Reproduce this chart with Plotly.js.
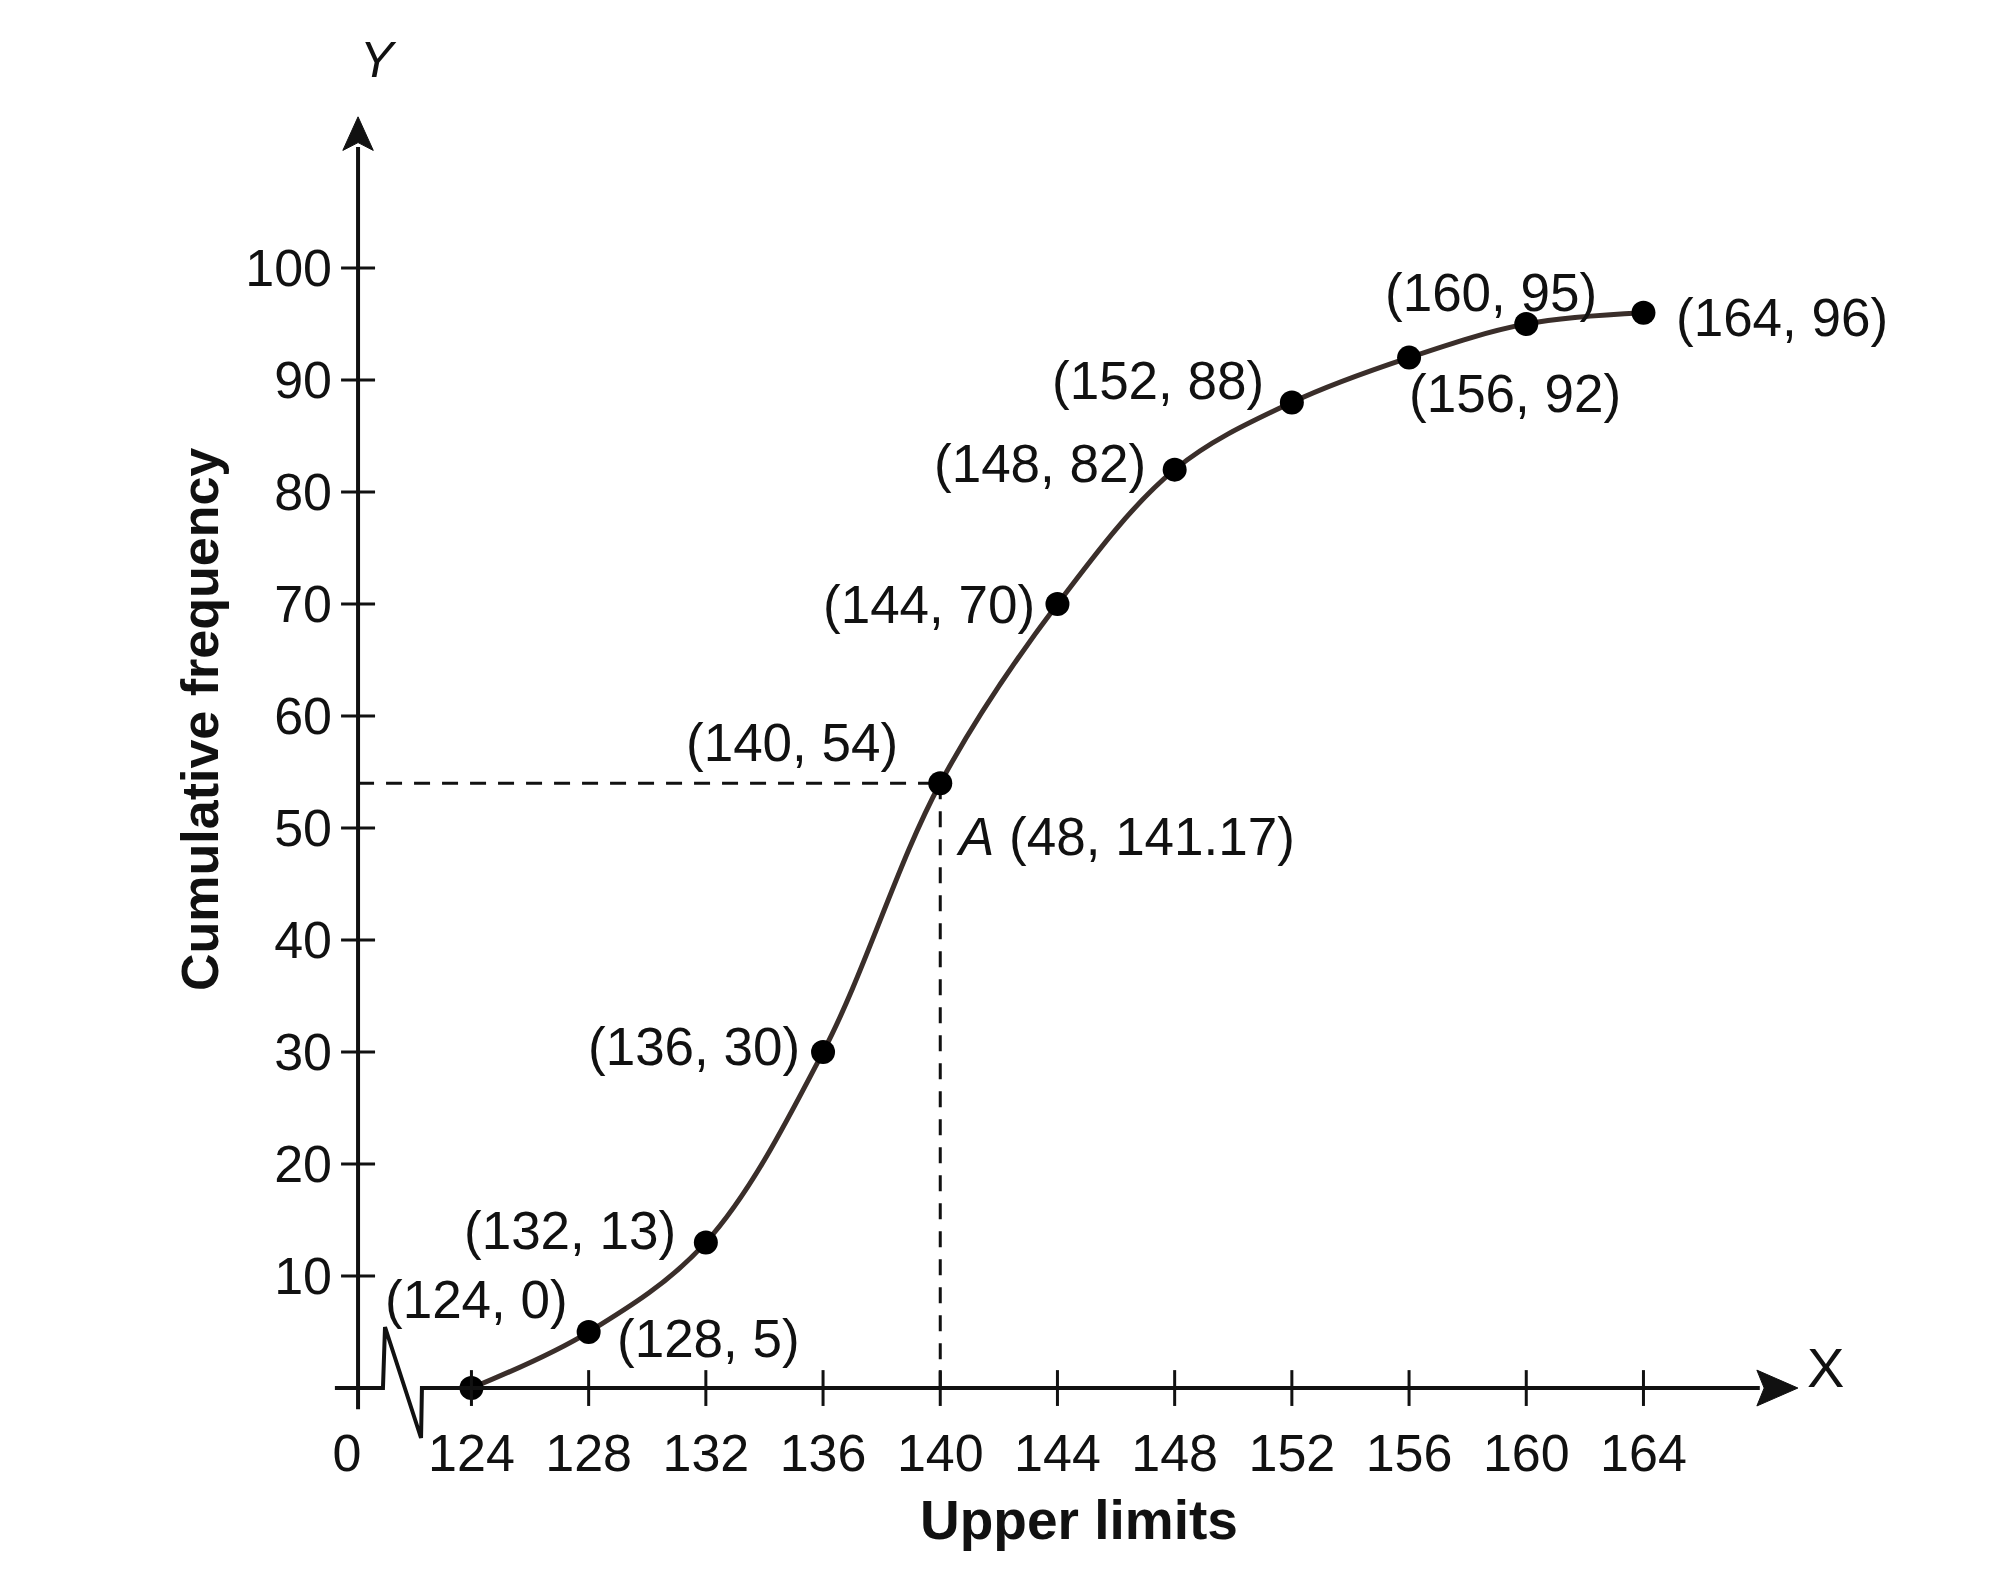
<!DOCTYPE html>
<html>
<head>
<meta charset="utf-8">
<script src="https://cdn.plot.ly/plotly-3.0.1.min.js"></script>
<style>
html,body{margin:0;padding:0;background:#ffffff;}
#chart{width:1998px;height:1592px;}
</style>
</head>
<body>
<div id="chart"></div>
<script>
// ---- data ----
const upperLimits = [124, 128, 132, 136, 140, 144, 148, 152, 156, 160, 164];
const cumulativeFrequency = [0, 5, 13, 30, 54, 70, 82, 88, 92, 95, 96];
const xTickValues = [124, 128, 132, 136, 140, 144, 148, 152, 156, 160, 164];
const xTickLabels = ['124', '128', '132', '136', '140', '144', '148', '152', '156', '160', '164'];
const yTickValues = [10, 20, 30, 40, 50, 60, 70, 80, 90, 100];
const yTickLabels = ['10', '20', '30', '40', '50', '60', '70', '80', '90', '100'];
const originLabel = '0';
const guideLevel = 54;      // horizontal dashed guide (through (140, 54))
const guideX = 140;         // vertical dashed guide
const medianText = '<i>A</i> (48, 141.17)';
const medianValue = 48;
const xTitle = 'Upper limits';
const yTitle = 'Cumulative frequency';

// ---- layout / style (not data) ----
const FONT = 'Liberation Sans, Arial, Helvetica, sans-serif';
const INK = '#111111';
const xRange = [107.91, 176.1];
const yRange = [-18.21, 123.93];
const yAxisX = 120.13;           // where the broken x-axis meets the y-axis
const originLabelX = 119.75;     // position of the "0" origin label
const xArrowTip = 169.27, xArrowBase = 167.87, xArrowNotch = 168.12;
const yArrowTip = 113.5, yArrowBase = 110.5, yArrowNotch = 111.2;

// label placement per point: [xanchor, xshift, yshift]
const labelPlacement = [
  ['center', 5, 89],
  ['left', 26, -6],
  ['right', -28, 12],
  ['right', -21, 6],
  ['right', -40, 41],
  ['right', -20, 0],
  ['right', -27, 6],
  ['right', -26, 22],
  ['left', -2, -36],
  ['center', -35, 32],
  ['left', 31, -5]
];

const shapes = [];
// dashed guides
shapes.push({type:'line', xref:'x', yref:'y', x0:yAxisX, x1:guideX, y0:guideLevel, y1:guideLevel,
  line:{color:INK, width:3, dash:'16px,12px'}, layer:'below'});
shapes.push({type:'line', xref:'x', yref:'y', x0:guideX, x1:guideX, y0:guideLevel, y1:0,
  line:{color:INK, width:3, dash:'16px,12px'}, layer:'below'});
// y-axis line
shapes.push({type:'line', xref:'x', yref:'y', x0:yAxisX, x1:yAxisX, y0:-1.9, y1:yArrowBase + 0.3,
  line:{color:INK, width:4}});
// y arrow head
const yHW = 0.52;
shapes.push({type:'path', xref:'x', yref:'y',
  path:`M ${yAxisX},${yArrowTip} L ${yAxisX - yHW},${yArrowBase} L ${yAxisX},${yArrowNotch} L ${yAxisX + yHW},${yArrowBase} Z`,
  fillcolor:INK, line:{color:INK, width:1}});
// x-axis with zig-zag break
shapes.push({type:'path', xref:'x', yref:'y',
  path:`M 119.34,0 L 120.98,0 L 121.05,5.45 L 122.28,-4.46 L 122.31,0 L ${xArrowBase + 0.1},0`,
  line:{color:INK, width:4}});
// x arrow head
const xHH = 1.6;
shapes.push({type:'path', xref:'x', yref:'y',
  path:`M ${xArrowTip},0 L ${xArrowBase},${xHH} L ${xArrowNotch},0 L ${xArrowBase},${-xHH} Z`,
  fillcolor:INK, line:{color:INK, width:1}});
// crossing tick marks
yTickValues.forEach(v => shapes.push({type:'line', xref:'x', yref:'y',
  x0:yAxisX - 0.58, x1:yAxisX + 0.58, y0:v, y1:v, line:{color:INK, width:3}}));
xTickValues.forEach(v => shapes.push({type:'line', xref:'x', yref:'y',
  x0:v, x1:v, y0:-1.6, y1:1.6, line:{color:INK, width:3}}));

const annotations = [];
upperLimits.forEach((x, i) => {
  const p = labelPlacement[i];
  annotations.push({x:x, y:cumulativeFrequency[i], xref:'x', yref:'y',
    text:`(${x}, ${cumulativeFrequency[i]})`, showarrow:false,
    xanchor:p[0], yanchor:'middle', xshift:p[1], yshift:p[2],
    font:{family:FONT, size:53, color:INK}});
});
annotations.push({x:guideX, y:medianValue, xref:'x', yref:'y', text:medianText, showarrow:false,
  xanchor:'left', yanchor:'middle', xshift:14, yshift:14, font:{family:FONT, size:53, color:INK}});
annotations.push({x:yAxisX, y:118.6, xref:'x', yref:'y', text:'<i>Y</i>', showarrow:false,
  xanchor:'center', yanchor:'middle', xshift:20, font:{family:FONT, size:50, color:INK}});
annotations.push({x:170.2, y:1.8, xref:'x', yref:'y', text:'X', showarrow:false,
  xanchor:'center', yanchor:'middle', font:{family:FONT, size:56, color:INK}});
annotations.push({x:200/1998, y:1 - 720/1592, xref:'paper', yref:'paper', text:`<b>${yTitle}</b>`,
  showarrow:false, textangle:-90, xanchor:'center', yanchor:'middle',
  font:{family:FONT, size:52, color:INK}});
annotations.push({x:1079/1998, y:1 - 1520/1592, xref:'paper', yref:'paper', text:`<b>${xTitle}</b>`,
  showarrow:false, xanchor:'center', yanchor:'middle',
  font:{family:FONT, size:55, color:INK}});

const trace = {
  x: upperLimits, y: cumulativeFrequency, type:'scatter', mode:'lines+markers',
  line:{shape:'spline', smoothing:1, color:'#3a2e2a', width:5},
  marker:{size:24, color:'#000000'}, cliponaxis:false, hoverinfo:'skip', showlegend:false
};

const layout = {
  width:1998, height:1592,
  margin:{l:0, r:0, t:0, b:0, pad:0},
  paper_bgcolor:'#ffffff', plot_bgcolor:'#ffffff',
  showlegend:false,
  xaxis:{range:xRange, anchor:'free', position:18.21/142.14, automargin:false,
    showgrid:false, zeroline:false, showline:false, ticks:'',
    tickmode:'array', tickvals:[originLabelX].concat(xTickValues), ticktext:[originLabel].concat(xTickLabels),
    ticklabelstandoff:30, tickfont:{family:FONT, size:52, color:INK}, fixedrange:true},
  yaxis:{range:yRange, anchor:'free', position:358/1998, automargin:false,
    showgrid:false, zeroline:false, showline:false, ticks:'',
    tickmode:'array', tickvals:yTickValues, ticktext:yTickLabels,
    ticklabelstandoff:26, tickfont:{family:FONT, size:52, color:INK}, fixedrange:true},
  shapes:shapes,
  annotations:annotations
};

Plotly.newPlot('chart', [trace], layout, {displayModeBar:false, staticPlot:true});
</script>
</body>
</html>
